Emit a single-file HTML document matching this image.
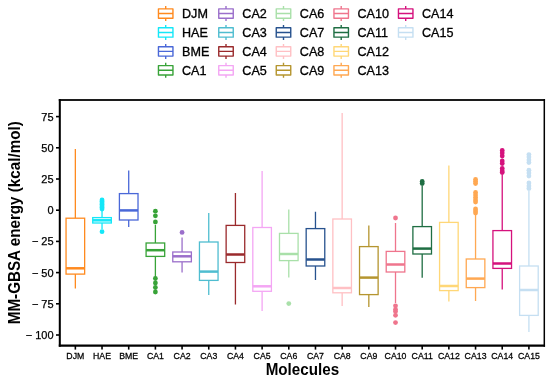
<!DOCTYPE html>
<html><head><meta charset="utf-8"><title>MM-GBSA energy</title>
<style>
html,body{margin:0;padding:0;background:#fff;}
body{width:550px;height:381px;overflow:hidden;font-family:"Liberation Sans",sans-serif;}
svg{display:block;}
text{font-family:"Liberation Sans",sans-serif;fill:#000;}
.leg{font-size:12px;stroke:#000;stroke-width:0.3px;}
.xt{font-size:8.75px;text-anchor:middle;fill:#000;stroke:#000;stroke-width:0.25px;}
.yt{font-size:11px;text-anchor:end;fill:#000;stroke:#000;stroke-width:0.25px;}
.ttl{font-size:15.2px;font-weight:bold;text-anchor:middle;}
</style></head><body>
<svg width="550" height="381" viewBox="0 0 550 381">
<rect width="550" height="381" fill="#fff"/>

<g fill="none" stroke-linejoin="round" stroke-width="1.40">
<path stroke="#FF8A1F" d="M165.70 6.05V8.85M165.70 18.25V21.05M158.45 8.85H172.95V18.25H158.45ZM158.45 13.55H172.95"/>
<path stroke="#14E7F8" d="M165.70 24.97V27.77M165.70 37.17V39.97M158.45 27.77H172.95V37.17H158.45ZM158.45 32.47H172.95"/>
<path stroke="#4A68D8" d="M165.70 43.89V46.69M165.70 56.09V58.89M158.45 46.69H172.95V56.09H158.45ZM158.45 51.39H172.95"/>
<path stroke="#38A338" d="M165.70 62.81V65.61M165.70 75.01V77.81M158.45 65.61H172.95V75.01H158.45ZM158.45 70.31H172.95"/>
<path stroke="#9B6FCB" d="M226.00 6.05V8.85M226.00 18.25V21.05M218.75 8.85H233.25V18.25H218.75ZM218.75 13.55H233.25"/>
<path stroke="#4FBDD0" d="M226.00 24.97V27.77M226.00 37.17V39.97M218.75 27.77H233.25V37.17H218.75ZM218.75 32.47H233.25"/>
<path stroke="#9A2A2C" d="M226.00 43.89V46.69M226.00 56.09V58.89M218.75 46.69H233.25V56.09H218.75ZM218.75 51.39H233.25"/>
<path stroke="#F4A6F4" d="M226.00 62.81V65.61M226.00 75.01V77.81M218.75 65.61H233.25V75.01H218.75ZM218.75 70.31H233.25"/>
<path stroke="#A9E0A9" d="M283.50 6.05V8.85M283.50 18.25V21.05M276.25 8.85H290.75V18.25H276.25ZM276.25 13.55H290.75"/>
<path stroke="#27528E" d="M283.50 24.97V27.77M283.50 37.17V39.97M276.25 27.77H290.75V37.17H276.25ZM276.25 32.47H290.75"/>
<path stroke="#FFC0C4" d="M283.50 43.89V46.69M283.50 56.09V58.89M276.25 46.69H290.75V56.09H276.25ZM276.25 51.39H290.75"/>
<path stroke="#B5952F" d="M283.50 62.81V65.61M283.50 75.01V77.81M276.25 65.61H290.75V75.01H276.25ZM276.25 70.31H290.75"/>
<path stroke="#EF758D" d="M341.20 6.05V8.85M341.20 18.25V21.05M333.95 8.85H348.45V18.25H333.95ZM333.95 13.55H348.45"/>
<path stroke="#1F6E43" d="M341.20 24.97V27.77M341.20 37.17V39.97M333.95 27.77H348.45V37.17H333.95ZM333.95 32.47H348.45"/>
<path stroke="#FFD777" d="M341.20 43.89V46.69M341.20 56.09V58.89M333.95 46.69H348.45V56.09H333.95ZM333.95 51.39H348.45"/>
<path stroke="#FFA852" d="M341.20 62.81V65.61M341.20 75.01V77.81M333.95 65.61H348.45V75.01H333.95ZM333.95 70.31H348.45"/>
<path stroke="#D5127D" d="M405.70 6.05V8.85M405.70 18.25V21.05M398.45 8.85H412.95V18.25H398.45ZM398.45 13.55H412.95"/>
<path stroke="#C5DFF2" d="M405.70 24.97V27.77M405.70 37.17V39.97M398.45 27.77H412.95V37.17H398.45ZM398.45 32.47H412.95"/>
</g>
<text class="leg" transform="translate(182.00 18.15) scale(1.05 1)">DJM</text>
<text class="leg" transform="translate(182.00 37.07) scale(1.05 1)">HAE</text>
<text class="leg" transform="translate(182.00 55.99) scale(1.05 1)">BME</text>
<text class="leg" transform="translate(182.00 74.91) scale(1.05 1)">CA1</text>
<text class="leg" transform="translate(242.30 18.15) scale(1.05 1)">CA2</text>
<text class="leg" transform="translate(242.30 37.07) scale(1.05 1)">CA3</text>
<text class="leg" transform="translate(242.30 55.99) scale(1.05 1)">CA4</text>
<text class="leg" transform="translate(242.30 74.91) scale(1.05 1)">CA5</text>
<text class="leg" transform="translate(299.80 18.15) scale(1.05 1)">CA6</text>
<text class="leg" transform="translate(299.80 37.07) scale(1.05 1)">CA7</text>
<text class="leg" transform="translate(299.80 55.99) scale(1.05 1)">CA8</text>
<text class="leg" transform="translate(299.80 74.91) scale(1.05 1)">CA9</text>
<text class="leg" transform="translate(357.50 18.15) scale(1.05 1)">CA10</text>
<text class="leg" transform="translate(357.50 37.07) scale(1.05 1)">CA11</text>
<text class="leg" transform="translate(357.50 55.99) scale(1.05 1)">CA12</text>
<text class="leg" transform="translate(357.50 74.91) scale(1.05 1)">CA13</text>
<text class="leg" transform="translate(422.00 18.15) scale(1.05 1)">CA14</text>
<text class="leg" transform="translate(422.00 37.07) scale(1.05 1)">CA15</text>
<g stroke="#FF8A1F" fill="none" stroke-width="1.30">
<path d="M75.35 149.00V218.20M75.35 274.10V288.40"/>
<rect x="66.05" y="218.20" width="18.60" height="55.90" fill="#fff"/>
<path stroke-width="2.50" d="M66.05 268.30H84.65"/>
</g>
<g stroke="#14E7F8" fill="none" stroke-width="1.30">
<path d="M102.03 211.00V217.60M102.03 223.00V229.00"/>
<rect x="92.73" y="217.60" width="18.60" height="5.40" fill="#fff"/>
<path stroke-width="2.50" d="M92.73 220.30H111.33"/>
</g>
<g fill="#14E7F8"><circle cx="102.03" cy="200.00" r="2.40"/><circle cx="102.03" cy="201.50" r="2.40"/><circle cx="102.03" cy="203.00" r="2.40"/><circle cx="102.03" cy="204.50" r="2.40"/><circle cx="102.03" cy="206.00" r="2.40"/><circle cx="102.03" cy="207.50" r="2.40"/><circle cx="102.03" cy="209.00" r="2.40"/><circle cx="102.03" cy="231.70" r="2.40"/></g>
<g stroke="#4A68D8" fill="none" stroke-width="1.30">
<path d="M128.71 170.60V193.60M128.71 220.00V227.00"/>
<rect x="119.41" y="193.60" width="18.60" height="26.40" fill="#fff"/>
<path stroke-width="2.50" d="M119.41 210.40H138.01"/>
</g>
<g stroke="#38A338" fill="none" stroke-width="1.30">
<path d="M155.39 225.00V243.00M155.39 256.40V277.00"/>
<rect x="146.09" y="243.00" width="18.60" height="13.40" fill="#fff"/>
<path stroke-width="2.50" d="M146.09 250.20H164.69"/>
</g>
<g fill="#38A338"><circle cx="155.39" cy="211.20" r="2.40"/><circle cx="155.39" cy="215.80" r="2.40"/><circle cx="155.39" cy="222.00" r="2.40"/><circle cx="155.39" cy="278.50" r="2.40"/><circle cx="155.39" cy="283.00" r="2.40"/><circle cx="155.39" cy="287.50" r="2.40"/><circle cx="155.39" cy="292.00" r="2.40"/></g>
<g stroke="#9B6FCB" fill="none" stroke-width="1.30">
<path d="M182.07 237.60V252.00M182.07 261.80V272.60"/>
<rect x="172.77" y="252.00" width="18.60" height="9.80" fill="#fff"/>
<path stroke-width="2.50" d="M172.77 256.30H191.37"/>
</g>
<g fill="#9B6FCB"><circle cx="182.07" cy="232.40" r="2.40"/></g>
<g stroke="#4FBDD0" fill="none" stroke-width="1.30">
<path d="M208.75 213.00V242.00M208.75 280.40V295.00"/>
<rect x="199.45" y="242.00" width="18.60" height="38.40" fill="#fff"/>
<path stroke-width="2.50" d="M199.45 271.60H218.05"/>
</g>
<g stroke="#9A2A2C" fill="none" stroke-width="1.30">
<path d="M235.43 193.00V225.40M235.43 262.50V304.60"/>
<rect x="226.13" y="225.40" width="18.60" height="37.10" fill="#fff"/>
<path stroke-width="2.50" d="M226.13 254.50H244.73"/>
</g>
<g stroke="#F4A6F4" fill="none" stroke-width="1.30">
<path d="M262.11 171.00V227.50M262.11 291.30V311.00"/>
<rect x="252.81" y="227.50" width="18.60" height="63.80" fill="#fff"/>
<path stroke-width="2.50" d="M252.81 286.30H271.41"/>
</g>
<g stroke="#A9E0A9" fill="none" stroke-width="1.30">
<path d="M288.79 209.40V233.40M288.79 260.60V277.40"/>
<rect x="279.49" y="233.40" width="18.60" height="27.20" fill="#fff"/>
<path stroke-width="2.50" d="M279.49 254.00H298.09"/>
</g>
<g fill="#A9E0A9"><circle cx="288.79" cy="303.60" r="2.40"/></g>
<g stroke="#27528E" fill="none" stroke-width="1.30">
<path d="M315.47 211.80V228.60M315.47 266.00V280.00"/>
<rect x="306.17" y="228.60" width="18.60" height="37.40" fill="#fff"/>
<path stroke-width="2.50" d="M306.17 259.50H324.77"/>
</g>
<g stroke="#FFC0C4" fill="none" stroke-width="1.30">
<path d="M342.15 113.00V219.00M342.15 292.80V306.00"/>
<rect x="332.85" y="219.00" width="18.60" height="73.80" fill="#fff"/>
<path stroke-width="2.50" d="M332.85 288.00H351.45"/>
</g>
<g stroke="#B5952F" fill="none" stroke-width="1.30">
<path d="M368.83 225.40V246.60M368.83 294.60V307.00"/>
<rect x="359.53" y="246.60" width="18.60" height="48.00" fill="#fff"/>
<path stroke-width="2.50" d="M359.53 277.60H378.13"/>
</g>
<g stroke="#EF758D" fill="none" stroke-width="1.30">
<path d="M395.51 223.00V251.40M395.51 272.00V303.00"/>
<rect x="386.21" y="251.40" width="18.60" height="20.60" fill="#fff"/>
<path stroke-width="2.50" d="M386.21 264.50H404.81"/>
</g>
<g fill="#EF758D"><circle cx="395.51" cy="218.00" r="2.40"/><circle cx="395.51" cy="305.80" r="2.40"/><circle cx="395.51" cy="309.50" r="2.40"/><circle cx="395.51" cy="311.50" r="2.40"/><circle cx="395.51" cy="315.30" r="2.40"/><circle cx="395.51" cy="322.60" r="2.40"/></g>
<g stroke="#1F6E43" fill="none" stroke-width="1.30">
<path d="M422.19 186.00V226.60M422.19 254.00V277.80"/>
<rect x="412.89" y="226.60" width="18.60" height="27.40" fill="#fff"/>
<path stroke-width="2.50" d="M412.89 248.60H431.49"/>
</g>
<g fill="#1F6E43"><circle cx="422.19" cy="181.50" r="2.40"/><circle cx="422.19" cy="183.50" r="2.40"/></g>
<g stroke="#FFD777" fill="none" stroke-width="1.30">
<path d="M448.87 165.40V222.40M448.87 290.60V301.40"/>
<rect x="439.57" y="222.40" width="18.60" height="68.20" fill="#fff"/>
<path stroke-width="2.50" d="M439.57 286.00H458.17"/>
</g>
<g stroke="#FFA852" fill="none" stroke-width="1.30">
<path d="M475.55 215.00V259.00M475.55 287.60V301.00"/>
<rect x="466.25" y="259.00" width="18.60" height="28.60" fill="#fff"/>
<path stroke-width="2.50" d="M466.25 278.60H484.85"/>
</g>
<g fill="#FFA852"><circle cx="475.55" cy="179.50" r="2.40"/><circle cx="475.55" cy="181.50" r="2.40"/><circle cx="475.55" cy="183.50" r="2.40"/><circle cx="475.55" cy="192.50" r="2.40"/><circle cx="475.55" cy="195.00" r="2.40"/><circle cx="475.55" cy="197.50" r="2.40"/><circle cx="475.55" cy="200.00" r="2.40"/><circle cx="475.55" cy="202.00" r="2.40"/><circle cx="475.55" cy="209.00" r="2.40"/><circle cx="475.55" cy="211.00" r="2.40"/><circle cx="475.55" cy="213.00" r="2.40"/></g>
<g stroke="#D5127D" fill="none" stroke-width="1.30">
<path d="M502.23 174.40V230.60M502.23 268.40V289.60"/>
<rect x="492.93" y="230.60" width="18.60" height="37.80" fill="#fff"/>
<path stroke-width="2.50" d="M492.93 263.50H511.53"/>
</g>
<g fill="#D5127D"><circle cx="502.23" cy="150.40" r="2.40"/><circle cx="502.23" cy="153.00" r="2.40"/><circle cx="502.23" cy="156.00" r="2.40"/><circle cx="502.23" cy="161.00" r="2.40"/><circle cx="502.23" cy="163.50" r="2.40"/><circle cx="502.23" cy="168.50" r="2.40"/><circle cx="502.23" cy="171.00" r="2.40"/><circle cx="502.23" cy="172.60" r="2.40"/></g>
<g stroke="#C5DFF2" fill="none" stroke-width="1.30">
<path d="M528.91 191.00V266.00M528.91 315.40V332.00"/>
<rect x="519.61" y="266.00" width="18.60" height="49.40" fill="#fff"/>
<path stroke-width="2.50" d="M519.61 290.00H538.21"/>
</g>
<g fill="#C5DFF2"><circle cx="528.91" cy="154.60" r="2.40"/><circle cx="528.91" cy="157.00" r="2.40"/><circle cx="528.91" cy="160.00" r="2.40"/><circle cx="528.91" cy="162.60" r="2.40"/><circle cx="528.91" cy="170.20" r="2.40"/><circle cx="528.91" cy="173.00" r="2.40"/><circle cx="528.91" cy="176.00" r="2.40"/><circle cx="528.91" cy="183.00" r="2.40"/><circle cx="528.91" cy="186.00" r="2.40"/><circle cx="528.91" cy="188.50" r="2.40"/></g>
<path d="M58.8 100H545.05" stroke="#1c1c1c" stroke-width="1.8"/>
<path d="M544.3 99.1V346.7" stroke="#000" stroke-width="1.5"/>
<path d="M59.8 99.1V346.7" stroke="#000" stroke-width="2.05"/>
<path d="M58.8 345.65H545.05" stroke="#000" stroke-width="2.1"/>
<path d="M56.00 116.60H59.00" stroke="#000" stroke-width="1.6"/>
<text class="yt" x="53.6" y="120.55">75</text>
<path d="M56.00 147.80H59.00" stroke="#000" stroke-width="1.6"/>
<text class="yt" x="53.6" y="151.75">50</text>
<path d="M56.00 179.00H59.00" stroke="#000" stroke-width="1.6"/>
<text class="yt" x="53.6" y="182.95">25</text>
<path d="M56.00 210.20H59.00" stroke="#000" stroke-width="1.6"/>
<text class="yt" x="53.6" y="214.15">0</text>
<path d="M56.00 241.40H59.00" stroke="#000" stroke-width="1.6"/>
<text class="yt" x="53.6" y="245.35">− 25</text>
<path d="M56.00 272.60H59.00" stroke="#000" stroke-width="1.6"/>
<text class="yt" x="53.6" y="276.55">− 50</text>
<path d="M56.00 303.80H59.00" stroke="#000" stroke-width="1.6"/>
<text class="yt" x="53.6" y="307.75">− 75</text>
<path d="M56.00 335.00H59.00" stroke="#000" stroke-width="1.6"/>
<text class="yt" x="53.6" y="338.95">− 100</text>
<path d="M75.35 346.00V349.60" stroke="#000" stroke-width="1.6"/>
<text class="xt" transform="translate(75.35 358.95) scale(1 1.1)">DJM</text>
<path d="M102.03 346.00V349.60" stroke="#000" stroke-width="1.6"/>
<text class="xt" transform="translate(102.03 358.95) scale(1 1.1)">HAE</text>
<path d="M128.71 346.00V349.60" stroke="#000" stroke-width="1.6"/>
<text class="xt" transform="translate(128.71 358.95) scale(1 1.1)">BME</text>
<path d="M155.39 346.00V349.60" stroke="#000" stroke-width="1.6"/>
<text class="xt" transform="translate(155.39 358.95) scale(1 1.1)">CA1</text>
<path d="M182.07 346.00V349.60" stroke="#000" stroke-width="1.6"/>
<text class="xt" transform="translate(182.07 358.95) scale(1 1.1)">CA2</text>
<path d="M208.75 346.00V349.60" stroke="#000" stroke-width="1.6"/>
<text class="xt" transform="translate(208.75 358.95) scale(1 1.1)">CA3</text>
<path d="M235.43 346.00V349.60" stroke="#000" stroke-width="1.6"/>
<text class="xt" transform="translate(235.43 358.95) scale(1 1.1)">CA4</text>
<path d="M262.11 346.00V349.60" stroke="#000" stroke-width="1.6"/>
<text class="xt" transform="translate(262.11 358.95) scale(1 1.1)">CA5</text>
<path d="M288.79 346.00V349.60" stroke="#000" stroke-width="1.6"/>
<text class="xt" transform="translate(288.79 358.95) scale(1 1.1)">CA6</text>
<path d="M315.47 346.00V349.60" stroke="#000" stroke-width="1.6"/>
<text class="xt" transform="translate(315.47 358.95) scale(1 1.1)">CA7</text>
<path d="M342.15 346.00V349.60" stroke="#000" stroke-width="1.6"/>
<text class="xt" transform="translate(342.15 358.95) scale(1 1.1)">CA8</text>
<path d="M368.83 346.00V349.60" stroke="#000" stroke-width="1.6"/>
<text class="xt" transform="translate(368.83 358.95) scale(1 1.1)">CA9</text>
<path d="M395.51 346.00V349.60" stroke="#000" stroke-width="1.6"/>
<text class="xt" transform="translate(395.51 358.95) scale(1 1.1)">CA10</text>
<path d="M422.19 346.00V349.60" stroke="#000" stroke-width="1.6"/>
<text class="xt" transform="translate(422.19 358.95) scale(1 1.1)">CA11</text>
<path d="M448.87 346.00V349.60" stroke="#000" stroke-width="1.6"/>
<text class="xt" transform="translate(448.87 358.95) scale(1 1.1)">CA12</text>
<path d="M475.55 346.00V349.60" stroke="#000" stroke-width="1.6"/>
<text class="xt" transform="translate(475.55 358.95) scale(1 1.1)">CA13</text>
<path d="M502.23 346.00V349.60" stroke="#000" stroke-width="1.6"/>
<text class="xt" transform="translate(502.23 358.95) scale(1 1.1)">CA14</text>
<path d="M528.91 346.00V349.60" stroke="#000" stroke-width="1.6"/>
<text class="xt" transform="translate(528.91 358.95) scale(1 1.1)">CA15</text>
<text class="ttl" transform="translate(302.4 374.9) scale(1 1.06)">Molecules</text>
<text class="ttl" transform="translate(19.6 222.75) rotate(-90) scale(1 1.05)">MM-GBSA energy (kcal/mol)</text>
</svg></body></html>
